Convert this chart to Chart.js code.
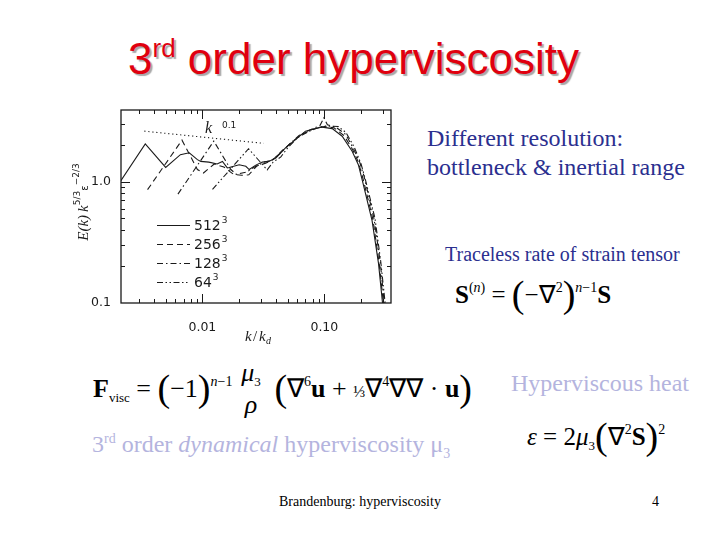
<!doctype html>
<html>
  <head>
    <title>3rd order hyperviscosity</title>
    <script src="https://cdn.jsdelivr.net/npm/chart.js"></script>
    <style>
      body {
        margin: 0;
        width: 720px;
        height: 540px;
        background: #fff;
        position: relative;
        overflow: hidden;
        font-family: "Liberation Serif", serif;
      }
      .abs { position: absolute; white-space: nowrap; }
      #title {
        left: 128px;
        top: 37px;
        font-family: "Liberation Sans", Arial, sans-serif;
        font-size: 44px;
        line-height: 44px;
        color: #e0000f;
        text-shadow: 2px 2px 1px #a8a8a8;
      }
      #title sup { font-size: 26px; vertical-align: 17px; line-height: 0; }
      .blue { color: #2b2f8f; }
      .lav { color: #b4b4de; }
      .eq { color: #000; font-size: 25px; line-height: 30px; }
      .eq sup { font-size: 14px; vertical-align: 11px; line-height: 0; }
      .eq sub { font-size: 13px; vertical-align: -5px; line-height: 0; }
      .big { font-size: 38px; vertical-align: -4px; line-height: 0; }
      .frac { position: absolute; text-align: center; line-height: 32px; }
      .frac span { display: block; }
      #chartBox { left: 60px; top: 100px; width: 340px; height: 250px; }
    </style>
  </head>

  <body>
    <div id="title" class="abs">3<sup>rd</sup> order hyperviscosity</div>

    <div class="abs blue" style="left:427px; top:124px; font-size:24px; line-height:29px;">
      Different resolution:<br />bottleneck &amp; inertial range
    </div>

    <div class="abs blue" style="left:445px; top:243px; font-size:20px;">Traceless rate of strain tensor</div>

    <div class="abs eq" style="left:455px; top:280px;">
      <b>S</b><sup>(<i>n</i>)</sup> = <span class="big">(</span>&minus;&nabla;<sup>2</sup><span class="big">)</span><sup><i>n</i>&minus;1</sup><b>S</b>
    </div>

    <div class="abs eq" style="left:93px; top:374px; font-size:26px;">
      <b>F</b><sub>visc</sub> = <span class="big">(</span>&minus;1<span class="big">)</span><sup><i>n</i>&minus;1</sup>
      <span style="display:inline-block; width:29px;"></span>
      <span class="big">(</span>&nabla;<sup>6</sup><b>u</b> + <span style="font-size:16px">&frac13;</span>&nabla;<sup>4</sup>&nabla;&nabla; &middot; <b>u</b><span class="big">)</span>
    </div>
    <div class="abs eq frac" style="left:234px; top:357px; width:34px; font-size:26px;">
      <span><i>&mu;</i><sub>3</sub></span><span><i>&rho;</i></span>
    </div>

    <div class="abs lav" style="left:511px; top:370px; font-size:24px;">Hyperviscous heat</div>

    <div class="abs eq" style="left:527px; top:422px;">
      <i>&epsilon;</i> = 2<i>&mu;</i><sub>3</sub><span class="big">(</span>&nabla;<sup>2</sup><b>S</b><span class="big">)</span><sup>2</sup>
    </div>

    <div class="abs lav" style="left:92px; top:431px; font-size:24px;">
      3<sup style="font-size:14px">rd</sup> order <i>dynamical</i> hyperviscosity &mu;<sub style="font-size:14px">3</sub>
    </div>

    <div class="abs" style="left:279px; top:494px; font-size:14px;">Brandenburg: hyperviscosity</div>
    <div class="abs" style="left:652px; top:494px; font-size:14px;">4</div>

    <div id="chartBox" class="abs"><canvas id="spectrum" width="340" height="250"></canvas></div>

    <script>
      // spectra: k/kd and E(k) k^5/3 eps^-2/3
      var k512 = [0.00212, 0.0034, 0.005, 0.0066, 0.0078, 0.0091, 0.0097, 0.0113, 0.0132, 0.0146, 0.016, 0.0166, 0.02, 0.0227, 0.0242, 0.0274, 0.031, 0.035, 0.04, 0.048, 0.058, 0.07, 0.096, 0.116, 0.14, 0.169, 0.19, 0.205, 0.246, 0.278, 0.3, 0.31];
      var e512 = [1.0, 2.05, 1.31, 1.67, 1.73, 1.52, 1.47, 1.45, 1.4, 1.47, 1.3, 1.31, 1.38, 1.34, 1.26, 1.37, 1.45, 1.47, 1.57, 1.9, 2.22, 2.61, 2.82, 2.74, 2.37, 1.78, 1.38, 1.02, 0.48, 0.212, 0.1, 0.08];

      var k256 = [0.00355, 0.0068, 0.0091, 0.0102, 0.0125, 0.015, 0.018, 0.021, 0.024, 0.028, 0.033, 0.038, 0.045, 0.055, 0.065, 0.08, 0.1, 0.12, 0.145, 0.17, 0.19, 0.208, 0.25, 0.282, 0.305, 0.315];
      var e256 = [0.86, 2.2, 1.26, 1.18, 1.4, 1.32, 1.15, 1.13, 1.14, 1.35, 1.42, 1.52, 1.8, 2.15, 2.45, 2.7, 2.85, 2.78, 2.4, 1.85, 1.45, 1.05, 0.49, 0.21, 0.1, 0.08];

      var k128 = [0.0063, 0.0124, 0.0171, 0.019, 0.023, 0.027, 0.032, 0.037, 0.043, 0.052, 0.062, 0.075, 0.092, 0.099, 0.106, 0.125, 0.15, 0.172, 0.195, 0.212, 0.255, 0.287, 0.31, 0.32];
      var e128 = [0.79, 2.16, 1.26, 1.15, 1.2, 1.33, 1.45, 1.5, 1.7, 2.05, 2.4, 2.65, 2.9, 3.36, 2.95, 2.8, 2.45, 1.9, 1.45, 1.1, 0.5, 0.22, 0.1, 0.08];

      var k64 = [0.0121, 0.0239, 0.034, 0.038, 0.044, 0.05, 0.06, 0.072, 0.085, 0.1, 0.13, 0.15, 0.175, 0.2, 0.215, 0.26, 0.29, 0.315, 0.325];
      var e64 = [0.865, 1.87, 1.25, 1.45, 1.6, 1.9, 2.3, 2.55, 2.75, 2.88, 2.85, 2.55, 1.95, 1.4, 1.08, 0.5, 0.22, 0.1, 0.08];

      // k^0.1 reference slope
      var kSlope = [0.00334, 0.0319];
      var eSlope = [2.61, 2.07];

      var resLabels = ["512", "256", "128", "64"];
      var xTickValues = [0.01, 0.1];
      var xTickLabels = ["0.01", "0.10"];
      var yTickValues = [0.1, 1];
      var yTickLabels = ["0.1", "1.0"];

      function pts(xs, ys) {
        return xs.map(function (x, i) {
          return { x: x, y: ys[i] };
        });
      }

      function pickLabel(values, labels, v) {
        for (var i = 0; i < values.length; i++) {
          if (Math.abs(values[i] - v) / values[i] < 1e-6) return labels[i];
        }
        return "";
      }

      var ink = "#1a1a1a";

      // IDL-style frame with inward ticks on all four sides
      var framePlugin = {
        id: "frame",
        afterDatasetsDraw: function (chart) {
          var ctx = chart.ctx;
          var a = chart.chartArea;
          ctx.save();
          ctx.strokeStyle = ink;
          ctx.lineWidth = 1.3;
          ctx.strokeRect(a.left, a.top, a.right - a.left, a.bottom - a.top);
          ctx.lineWidth = 1;
          ["x", "y"].forEach(function (id) {
            var s = chart.scales[id];
            s.ticks.forEach(function (t) {
              var v = t.value;
              var e = Math.floor(Math.log10(v) + 1e-9);
              var m = v / Math.pow(10, e);
              if (Math.abs(m - Math.round(m)) > 1e-6) return;
              var len = Math.round(m) === 1 ? 9 : 4;
              var p = Math.round(s.getPixelForValue(v)) + 0.5;
              ctx.beginPath();
              if (id === "x") {
                if (p <= a.left + 1 || p >= a.right - 1) return;
                ctx.moveTo(p, a.bottom); ctx.lineTo(p, a.bottom - len);
                ctx.moveTo(p, a.top); ctx.lineTo(p, a.top + len);
              } else {
                if (p <= a.top + 1 || p >= a.bottom - 1) return;
                ctx.moveTo(a.left, p); ctx.lineTo(a.left + len, p);
                ctx.moveTo(a.right, p); ctx.lineTo(a.right - len, p);
              }
              ctx.stroke();
            });
          });

          // legend inside the plot
          chart.data.datasets.forEach(function (ds, i) {
            if (!ds.inLegend) return;
            var y = a.top + 115 + i * 19;
            var x0 = a.left + 36;
            ctx.setLineDash(ds.borderDash || []);
            ctx.strokeStyle = ink;
            ctx.beginPath();
            ctx.moveTo(x0, y + 0.5);
            ctx.lineTo(x0 + 33, y + 0.5);
            ctx.stroke();
            ctx.setLineDash([]);
            ctx.fillStyle = ink;
            ctx.textBaseline = "middle";
            ctx.font = "14px 'DejaVu Sans', sans-serif";
            ctx.fillText(ds.label, x0 + 37, y + 1);
            var w = ctx.measureText(ds.label).width;
            ctx.font = "9px 'DejaVu Sans', sans-serif";
            ctx.fillText("3", x0 + 38 + w, y - 4);
          });

          // slope label
          ctx.fillStyle = ink;
          ctx.textBaseline = "alphabetic";
          ctx.font = "italic 16px 'Liberation Serif', serif";
          ctx.fillText("k", a.left + 84, a.top + 23);
          ctx.font = "9px 'DejaVu Sans', sans-serif";
          ctx.fillText("0.1", a.left + 101, a.top + 18);

          // rotated y-axis title E(k) k^5/3 eps^-2/3
          ctx.translate(19, a.top + 92);
          ctx.rotate(-Math.PI / 2);
          var parts = [
            ["E(k)", "italic 15px 'Liberation Serif', serif", 0],
            ["\u2009k", "italic 15px 'Liberation Serif', serif", 0],
            ["5/3", "9px 'DejaVu Sans', sans-serif", -6],
            ["\u03b5", "10px 'DejaVu Sans', sans-serif", 1],
            ["\u22122/3", "9px 'DejaVu Sans', sans-serif", -7]
          ];
          var total = 0;
          parts.forEach(function (p) {
            ctx.font = p[1];
            total += ctx.measureText(p[0]).width;
          });
          var cx = -total / 2;
          ctx.textBaseline = "middle";
          parts.forEach(function (p) {
            ctx.font = p[1];
            ctx.fillText(p[0], cx, 5 + p[2]);
            cx += ctx.measureText(p[0]).width;
          });
          ctx.restore();

          // x-axis title k/kd
          ctx.save();
          ctx.fillStyle = ink;
          ctx.textBaseline = "middle";
          ctx.font = "italic 15px 'Liberation Serif', serif";
          var tx = a.left + 124;
          ctx.fillText("k", tx, a.bottom + 34);
          ctx.font = "15px 'Liberation Serif', serif";
          ctx.fillText("/", tx + 8, a.bottom + 34);
          ctx.font = "italic 15px 'Liberation Serif', serif";
          ctx.fillText("k", tx + 14, a.bottom + 34);
          ctx.font = "italic 10px 'Liberation Serif', serif";
          ctx.fillText("d", tx + 21, a.bottom + 38);
          ctx.restore();
        },
      };

      function series(label, xs, ys, dash, legend) {
        return {
          label: label,
          data: pts(xs, ys),
          showLine: true,
          borderColor: ink,
          borderWidth: 1.1,
          borderDash: dash,
          pointRadius: 0,
          tension: 0,
          fill: false,
          inLegend: legend,
        };
      }

      var ctx = document.getElementById("spectrum").getContext("2d");
      var chart = new Chart(ctx, {
        type: "scatter",
        data: {
          datasets: [
            series(resLabels[0], k512, e512, [], true),
            series(resLabels[1], k256, e256, [6, 4], true),
            series(resLabels[2], k128, e128, [6, 3, 1.5, 3], true),
            series(resLabels[3], k64, e64, [6, 2.5, 1.5, 2.5, 1.5, 2.5], true),
            series("k^0.1", kSlope, eSlope, [1.2, 2.8], false),
          ],
        },
        options: {
          responsive: false,
          animation: false,
          layout: { padding: { top: 10, right: 7, left: 0, bottom: 0 } },
          plugins: { legend: { display: false }, tooltip: { enabled: false } },
          scales: {
            x: {
              type: "logarithmic",
              min: 0.00215,
              max: 0.352,
              grid: { display: false },
              border: { display: false },
              afterFit: function (s) { s.height = 47; },
              ticks: {
                autoSkip: false,
                maxRotation: 0,
                padding: 9,
                color: ink,
                font: { family: "'DejaVu Sans', sans-serif", size: 12.5 },
                callback: function (v) { return pickLabel(xTickValues, xTickLabels, v); },
              },
            },
            y: {
              type: "logarithmic",
              min: 0.1,
              max: 3.9,
              grid: { display: false },
              border: { display: false },
              afterFit: function (s) { s.width = 61; },
              ticks: {
                autoSkip: false,
                padding: 2,
                color: ink,
                font: { family: "'DejaVu Sans', sans-serif", size: 12.5 },
                callback: function (v) { return pickLabel(yTickValues, yTickLabels, v); },
              },
            },
          },
        },
        plugins: [framePlugin],
      });
    </script>
  </body>
</html>
